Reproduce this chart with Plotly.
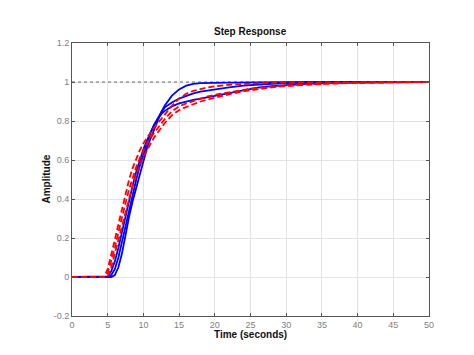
import plotly.graph_objects as go

t = [0, 4.5, 5, 5.5, 6, 6.5, 7, 7.5, 8, 8.5, 9, 9.5, 10, 10.5, 11, 11.5, 12, 12.5,
     13, 14, 15, 16, 17, 18, 19, 20, 22, 24, 26, 28, 30, 33, 36, 40, 45, 50]

blue_a = [0, 0, 0, 0, 0.01, 0.05, 0.12, 0.22, 0.31, 0.39, 0.46, 0.53, 0.60, 0.66, 0.71, 0.76, 0.80, 0.845,
          0.88, 0.93, 0.962, 0.981, 0.99, 0.994, 0.996, 0.996, 0.997, 0.998, 0.998, 0.999, 0.999, 1, 1, 1, 1, 1]
blue_b = [0, 0, 0, 0.01, 0.04, 0.10, 0.18, 0.27, 0.35, 0.43, 0.50, 0.57, 0.63, 0.69, 0.74, 0.78, 0.815, 0.845,
          0.87, 0.895, 0.915, 0.93, 0.942, 0.951, 0.957, 0.962, 0.972, 0.981, 0.987, 0.991, 0.994, 0.997, 0.998, 0.999, 1, 1]
blue_c = [0, 0, 0.003, 0.03, 0.08, 0.15, 0.23, 0.32, 0.40, 0.47, 0.54, 0.60, 0.655, 0.70, 0.745, 0.78, 0.81, 0.835,
          0.852, 0.875, 0.89, 0.90, 0.908, 0.915, 0.922, 0.929, 0.945, 0.96, 0.971, 0.979, 0.985, 0.991, 0.995, 0.997, 0.999, 1]
red_a = [0, 0, 0.04, 0.11, 0.19, 0.27, 0.35, 0.43, 0.50, 0.56, 0.61, 0.65, 0.685, 0.715, 0.74, 0.765, 0.788, 0.808,
         0.835, 0.878, 0.915, 0.94, 0.955, 0.965, 0.972, 0.978, 0.986, 0.99, 0.994, 0.996, 0.997, 0.998, 0.999, 1, 1, 1]
red_b = [0, 0, 0.02, 0.08, 0.15, 0.23, 0.31, 0.38, 0.45, 0.51, 0.565, 0.61, 0.65, 0.685, 0.715, 0.74, 0.765, 0.79,
         0.81, 0.85, 0.875, 0.89, 0.903, 0.915, 0.926, 0.934, 0.948, 0.96, 0.97, 0.977, 0.983, 0.989, 0.993, 0.996, 0.999, 1]
red_c = [0, 0, 0, 0.05, 0.12, 0.19, 0.27, 0.34, 0.41, 0.47, 0.525, 0.575, 0.615, 0.65, 0.685, 0.715, 0.74, 0.765,
         0.79, 0.83, 0.855, 0.872, 0.888, 0.90, 0.91, 0.92, 0.937, 0.952, 0.963, 0.973, 0.979, 0.987, 0.992, 0.996, 0.998, 1]

x_ticks = [0, 5, 10, 15, 20, 25, 30, 35, 40, 45, 50]
y_ticks = [-0.2, 0, 0.2, 0.4, 0.6, 0.8, 1, 1.2]
y_labels = ["-0.2", "0", "0.2", "0.4", "0.6", "0.8", "1", "1.2"]
steady_state = [1, 1]
steady_x = [0, 50]

fig = go.Figure()
fig.add_trace(go.Scatter(x=steady_x, y=steady_state, mode="lines",
                         line=dict(color="#444", width=0.8, dash="dot"), showlegend=False))
for y in [blue_c, blue_b, blue_a]:
    fig.add_trace(go.Scatter(x=t, y=y, mode="lines", line=dict(color="#0000ff", width=1.8),
                             showlegend=False))
for y in [red_a, red_b, red_c]:
    fig.add_trace(go.Scatter(x=t, y=y, mode="lines",
                             line=dict(color="#ff0000", width=1.8, dash="6px,3px"),
                             showlegend=False))

axis_common = dict(showline=True, linecolor="#555", linewidth=1, mirror="ticks",
                   ticks="inside", ticklen=3, tickcolor="#555",
                   showgrid=True, gridcolor="#e3e3e3", gridwidth=1, zeroline=False,
                   tickfont=dict(family="Liberation Sans, Arial", size=9, color="#808080"))

fig.update_layout(
    width=466, height=347,
    margin=dict(l=64, r=45, t=35, b=39),
    paper_bgcolor="white", plot_bgcolor="white",
    xaxis=dict(range=[0, 50], tickvals=x_ticks, **axis_common),
    yaxis=dict(range=[-0.2, 1.2], tickvals=y_ticks, ticktext=y_labels, **axis_common),
    annotations=[
        dict(text="<b>Step Response</b>", xref="paper", yref="paper", x=0.5, y=1, yshift=4,
             xanchor="center", yanchor="bottom", showarrow=False,
             font=dict(family="Liberation Sans, Arial", size=10, color="#111")),
        dict(text="<b>Time (seconds)</b>", xref="paper", yref="paper", x=0.5, y=0, yshift=-11,
             xanchor="center", yanchor="top", showarrow=False,
             font=dict(family="Liberation Sans, Arial", size=10, color="#111")),
        dict(text="<b>Amplitude</b>", xref="paper", yref="paper", x=0, y=0.5, xshift=-26,
             xanchor="center", yanchor="middle", textangle=-90, showarrow=False,
             font=dict(family="Liberation Sans, Arial", size=10, color="#111")),
    ],
)

fig.write_html("out.html")
